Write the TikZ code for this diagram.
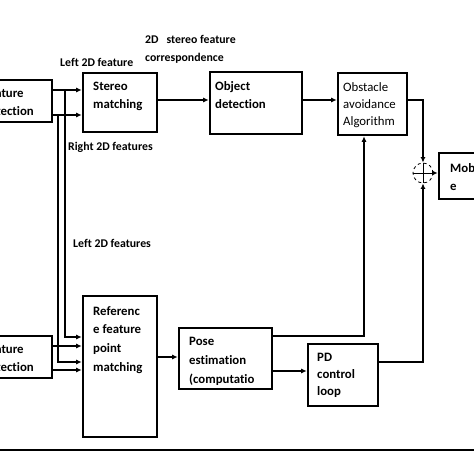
\documentclass[tikz,border=0pt]{standalone}
\usepackage{fontspec}
\setmainfont{Carlito}[Ligatures=NoCommon]
\usetikzlibrary{arrows.meta,calc}
\begin{document}
\begin{tikzpicture}[x=1pt,y=-1pt,
  box/.style={draw,line width=2.6pt,inner sep=0pt},
  txt/.style={anchor=north west,inner sep=0pt,align=left,font=\fontsize{12.8}{18}\selectfont\bfseries},
  txtr/.style={anchor=north west,inner sep=0pt,align=left,font=\fontsize{12.8}{17}\selectfont},
  lab/.style={anchor=north west,inner sep=0pt,align=left,font=\fontsize{11.8}{18}\selectfont\bfseries},
  con/.style={line width=1.5pt},
  arr/.style={con,-{Latex[length=5.5pt,width=5pt]}}]
\useasboundingbox (0,0) rectangle (474,474);
\clip (0,0) rectangle (474,474);
% boxes
\node[box,minimum width=100pt,minimum height=42pt] (ft) at (2,101) {};
\node[box,minimum width=100pt,minimum height=42pt] (fb) at (2,357) {};
\node[box,minimum width=74pt,minimum height=59pt] (st) at (120,102.5) {};
\node[box,minimum width=92pt,minimum height=62pt] (ob) at (256,103) {};
\node[box,minimum width=69pt,minimum height=62pt] (oa) at (372.5,104) {};
\node[box,minimum width=100pt,minimum height=46pt] (mob) at (489,176) {};
\node[box,minimum width=74pt,minimum height=141pt] (ref) at (120,366.5) {};
\node[box,minimum width=93pt,minimum height=61pt] (pose) at (225.5,358.5) {};
\node[box,minimum width=70pt,minimum height=62pt] (pd) at (343,375) {};
% box texts
\node[txt] (ftt) at (-17,89) {Feature\\detection};
\node[txt] (fbt) at (-17,345) {Feature\\detection};
\node[txt] (stt) at (93,82) {Stereo\\matching};
\node[txt] (obt) at (215,81) {Object\\detection};
\node[txtr] (oat) at (343,82) {Obstacle\\avoidance\\Algorithm};
\node[txt] (mobt) at (450,163) {Mobile robot\\e};
\node[txt,font=\fontsize{12.8}{18.7}\selectfont\bfseries] (reft) at (93,306) {Referenc\\e feature\\point\\matching};
\node[txt,font=\fontsize{12.8}{19}\selectfont\bfseries] (poset) at (189,337) {Pose\\estimation\\(computatio};
\node[txt,font=\fontsize{12.8}{17}\selectfont\bfseries] (pdt) at (317,353) {PD\\control\\loop};
% labels
\node[lab] (l1) at (145,35) {2D\ \ \ stereo feature\\correspondence};
\node[lab] (l2) at (60,58) {Left 2D feature};
\node[lab] (l3) at (68,142) {Right 2D features};
\node[lab] (l4) at (73,239) {Left 2D features};
% summing junction
\node[circle,draw,dashed,line width=0.8pt,minimum size=20pt,inner sep=0pt] (sum) at (423,173) {};
\draw[line width=0.8pt] (sum.north) -- (sum.south) (sum.west) -- (sum.east);
% helper coordinates
\coordinate (ya) at (0,90);
\coordinate (yb) at (0,115);
\coordinate (yc) at (0,337);
\coordinate (yd) at (0,346);
\coordinate (ye) at (0,362);
\coordinate (yf) at (0,370);
\coordinate (yg) at (0,100);
\coordinate (yh) at (0,357);
\coordinate (yi) at (0,336);
\coordinate (yj) at (0,371);
\coordinate (yk) at (0,362);
\coordinate (v1) at (65,90);
\coordinate (v2) at (58,115);
\coordinate (xk) at (364,0);
% connectors
\draw[arr] (ft.east |- ya) -- (st.west |- ya);
\draw[arr] (ft.east |- yb) -- (st.west |- yb);
\draw[arr] (v1) |- (ref.west |- yc);
\draw[arr] (v2) |- (ref.west |- ye);
\draw[arr] (fb.east |- yd) -- (ref.west |- yd);
\draw[arr] (fb.east |- yf) -- (ref.west |- yf);
\draw[arr] (st.east |- yg) -- (ob.west |- yg);
\draw[arr] (ob.east |- yg) -- (oa.west |- yg);
\draw[arr] (oa.east |- yg) -| (sum.north);
\draw[arr] (sum.east) -- (mob.west |- sum.east);
\draw[arr] (ref.east |- yh) -- (pose.west |- yh);
\draw[arr] (pose.east |- yi) -| (oa.south -| xk);
\draw[arr] (pose.east |- yj) -- (pd.west |- yj);
\draw[arr] (pd.east |- yk) -| (sum.south);
% bottom rule
\draw[line width=1.5pt] (0,450) -- (474,450);
\end{tikzpicture}
\end{document}
